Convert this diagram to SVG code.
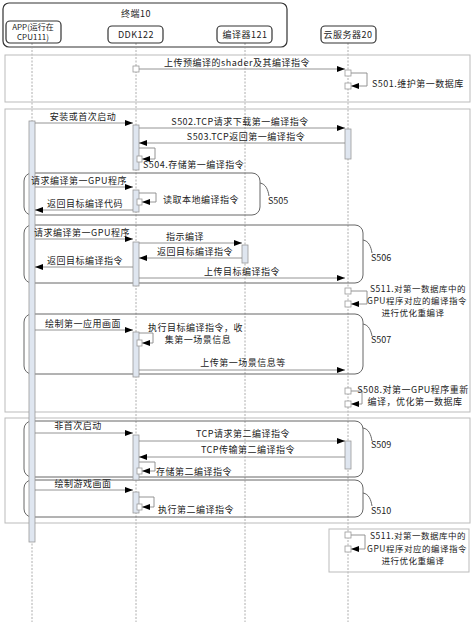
<svg xmlns="http://www.w3.org/2000/svg" width="474" height="625" viewBox="0 0 474 625">
<style>
text{font-family:"Noto Sans CJK SC","Liberation Sans",sans-serif;font-size:9px;fill:#222;letter-spacing:0.5px}
.m{text-anchor:middle}
.s{font-size:8.5px}
.hdr{fill:#fff;stroke:#333;stroke-width:1.2}
.life{stroke:#999;stroke-width:0.8;stroke-dasharray:2 1.5;fill:none}
.frame{fill:none;stroke:#bbb;stroke-width:1}
.grp{fill:none;stroke:#666;stroke-width:1}
.act{fill:#dfe6f0;stroke:#999;stroke-width:0.8}
.sq{fill:#fff;stroke:#999;stroke-width:0.8}
.msg{stroke:#888;stroke-width:0.9;fill:none}
</style>
<defs>
<marker id="ah" markerUnits="userSpaceOnUse" markerWidth="8" markerHeight="6" refX="8" refY="3" orient="auto">
<path d="M0,0 L8,3 L0,6 z" fill="#000"/>
</marker>
</defs>
<rect x="0" y="0" width="474" height="625" fill="#fff"/>
<g id="terminal">
<rect class="hdr" x="3" y="3" width="284" height="44" rx="6"/>
<text class="m" x="136" y="17">终端10</text>
</g>
<g id="lifelines">
<line class="life" x1="32" y1="43" x2="32" y2="622"/>
<line class="life" x1="136" y1="43" x2="136" y2="622"/>
<line class="life" x1="245" y1="43" x2="245" y2="622"/>
<line class="life" x1="348" y1="43" x2="348" y2="622"/>
</g>
<g id="app">
<rect class="hdr" x="6" y="21" width="55" height="22" rx="4"/>
<text class="m" x="33" y="30" style="font-size:8px;letter-spacing:0">APP(运行在</text>
<text class="m" x="33" y="40" style="font-size:8px;letter-spacing:0">CPU111)</text>
</g>
<g id="ddk">
<rect class="hdr" x="108" y="26" width="55" height="17" rx="4"/>
<text class="m" x="136" y="38">DDK122</text>
</g>
<g id="compiler">
<rect class="hdr" x="217" y="26" width="55" height="17" rx="4"/>
<text class="m" x="245" y="38">编译器121</text>
</g>
<g id="cloud">
<rect class="hdr" x="321" y="26" width="55" height="17" rx="4"/>
<text class="m" x="348" y="38">云服务器20</text>
</g>
<g id="frames">
<rect class="frame" x="5" y="55" width="465" height="47"/>
<rect class="frame" x="5" y="109" width="465" height="303"/>
<rect class="frame" x="5" y="418" width="465" height="105"/>
<rect class="frame" x="329" y="529" width="140" height="43"/>
</g>
<g id="groups">
<rect class="grp" x="24" y="173" width="236" height="42" rx="8"/>
<path class="grp" d="M260,183 C266,184 268,190 269,196"/>
<text x="268" y="204" style="letter-spacing:0">S505</text>
<rect class="grp" x="24" y="225" width="339" height="58" rx="8"/>
<path class="grp" d="M363,240 C369,241 371,247 372,253"/>
<text x="371" y="261" style="letter-spacing:0">S506</text>
<rect class="grp" x="24" y="314" width="339" height="60" rx="8"/>
<path class="grp" d="M363,324 C369,325 371,331 372,336"/>
<text x="371" y="343" style="letter-spacing:0">S507</text>
<rect class="grp" x="24" y="421" width="339" height="56" rx="8"/>
<path class="grp" d="M363,428 C369,429 371,435 372,441"/>
<text x="371" y="448" style="letter-spacing:0">S509</text>
<rect class="grp" x="24" y="480" width="339" height="37" rx="8"/>
<path class="grp" d="M363,493 C369,494 371,500 372,506"/>
<text x="371" y="514" style="letter-spacing:0">S510</text>
</g>
<g id="activations">
<rect class="act" x="29" y="121" width="6" height="421"/>
<rect class="act" x="133" y="125" width="6" height="45"/>
<rect class="act" x="345" y="129" width="6" height="30"/>
<rect class="act" x="133" y="190" width="6" height="22"/>
<rect class="act" x="133" y="242" width="6" height="44"/>
<rect class="act" x="242" y="245" width="6" height="18"/>
<rect class="act" x="133" y="332" width="6" height="45"/>
<rect class="act" x="133" y="435" width="6" height="45"/>
<rect class="act" x="345" y="441" width="6" height="28"/>
<rect class="act" x="133" y="492" width="6" height="21"/>
</g>
<g id="connectors">
<line class="msg" x1="139" y1="69" x2="345" y2="69" marker-end="url(#ah)"/>
<polyline class="msg" points="351,73 367,73 367,86 351,86" marker-end="url(#ah)"/>
<line class="msg" x1="35" y1="123" x2="133" y2="123" marker-end="url(#ah)"/>
<line class="msg" x1="139" y1="128" x2="345" y2="128" marker-end="url(#ah)"/>
<line class="msg" x1="345" y1="143" x2="139" y2="143" marker-end="url(#ah)"/>
<polyline class="msg" points="139,148 155,148 155,159 142,159" marker-end="url(#ah)"/>
<line class="msg" x1="35" y1="187" x2="133" y2="187" marker-end="url(#ah)"/>
<polyline class="msg" points="139,193 156,193 156,202 142,202" marker-end="url(#ah)"/>
<line class="msg" x1="133" y1="210" x2="35" y2="210" marker-end="url(#ah)"/>
<line class="msg" x1="35" y1="239" x2="133" y2="239" marker-end="url(#ah)"/>
<line class="msg" x1="139" y1="243" x2="242" y2="243" marker-end="url(#ah)"/>
<line class="msg" x1="242" y1="258" x2="139" y2="258" marker-end="url(#ah)"/>
<line class="msg" x1="133" y1="267" x2="35" y2="267" marker-end="url(#ah)"/>
<line class="msg" x1="139" y1="278" x2="345" y2="278" marker-end="url(#ah)"/>
<polyline class="msg" points="351,291 367,291 367,304 351,304" marker-end="url(#ah)"/>
<line class="msg" x1="35" y1="330" x2="133" y2="330" marker-end="url(#ah)"/>
<polyline class="msg" points="139,333 153,333 153,343 142,343" marker-end="url(#ah)"/>
<line class="msg" x1="139" y1="370" x2="345" y2="370" marker-end="url(#ah)"/>
<polyline class="msg" points="351,391 362,391 362,404 351,404" marker-end="url(#ah)"/>
<line class="msg" x1="35" y1="433" x2="133" y2="433" marker-end="url(#ah)"/>
<line class="msg" x1="139" y1="441" x2="345" y2="441" marker-end="url(#ah)"/>
<line class="msg" x1="345" y1="457" x2="139" y2="457" marker-end="url(#ah)"/>
<polyline class="msg" points="139,462 155,462 155,471 142,471" marker-end="url(#ah)"/>
<line class="msg" x1="35" y1="490" x2="133" y2="490" marker-end="url(#ah)"/>
<polyline class="msg" points="139,497 154,497 154,507 142,507" marker-end="url(#ah)"/>
<polyline class="msg" points="351,535 365,535 365,549 351,549" marker-end="url(#ah)"/>
</g>
<g id="squares">
<rect class="sq" x="133" y="66" width="6" height="6"/>
<rect class="sq" x="345" y="70" width="6" height="6"/>
<rect class="sq" x="345" y="83" width="6" height="6"/>
<rect class="sq" x="137" y="156" width="5" height="6"/>
<rect class="sq" x="137" y="199" width="5" height="6"/>
<rect class="sq" x="345" y="288" width="6" height="6"/>
<rect class="sq" x="345" y="301" width="6" height="6"/>
<rect class="sq" x="137" y="340" width="5" height="6"/>
<rect class="sq" x="345" y="388" width="6" height="6"/>
<rect class="sq" x="345" y="401" width="6" height="6"/>
<rect class="sq" x="137" y="468" width="5" height="6"/>
<rect class="sq" x="137" y="504" width="5" height="6"/>
<rect class="sq" x="345" y="532" width="6" height="6"/>
<rect class="sq" x="345" y="546" width="6" height="6"/>
</g>
<g id="labels">
<text class="m" x="237" y="66">上传预编译的shader及其编译指令</text>
<text x="372" y="87">S501.维护第一数据库</text>
<text class="m" x="83" y="120">安装或首次启动</text>
<text class="m" x="240" y="125">S502.TCP请求下载第一编译指令</text>
<text class="m" x="246" y="140">S503.TCP返回第一编译指令</text>
<text x="143" y="168">S504.存储第一编译指令</text>
<text class="m" x="79" y="184">请求编译第一GPU程序</text>
<text x="163" y="203">读取本地编译指令</text>
<text class="m" x="85" y="207">返回目标编译代码</text>
<text class="m" x="82" y="236">请求编译第一GPU程序</text>
<text class="m" x="185" y="240">指示编译</text>
<text class="m" x="195" y="255">返回目标编译指令</text>
<text class="m" x="85" y="264">返回目标编译指令</text>
<text class="m" x="242" y="275">上传目标编译指令</text>
<text class="m s" x="418" y="292">S511.对第一数据库中的</text>
<text class="m s" x="417" y="304">GPU程序对应的编译指令</text>
<text class="m s" x="413" y="316">进行优化重编译</text>
<text class="m" x="83" y="327">绘制第一应用画面</text>
<text x="148" y="331">执行目标编译指令，收</text>
<text class="m" x="198" y="343">集第一场景信息</text>
<text class="m" x="243" y="366">上传第一场景信息等</text>
<text class="m" x="413" y="393">S508.对第一GPU程序重新</text>
<text class="m" x="415" y="405">编译，优化第一数据库</text>
<text class="m" x="78" y="429">非首次启动</text>
<text class="m" x="243" y="437">TCP请求第二编译指令</text>
<text class="m" x="248" y="453">TCP传输第二编译指令</text>
<text x="156" y="475">存储第二编译指令</text>
<text class="m" x="83" y="487">绘制游戏画面</text>
<text x="158" y="513">执行第二编译指令</text>
<text class="m s" x="418" y="539">S511.对第一数据库中的</text>
<text class="m s" x="417" y="552">GPU程序对应的编译指令</text>
<text class="m s" x="413" y="564">进行优化重编译</text>
</g>
</svg>
